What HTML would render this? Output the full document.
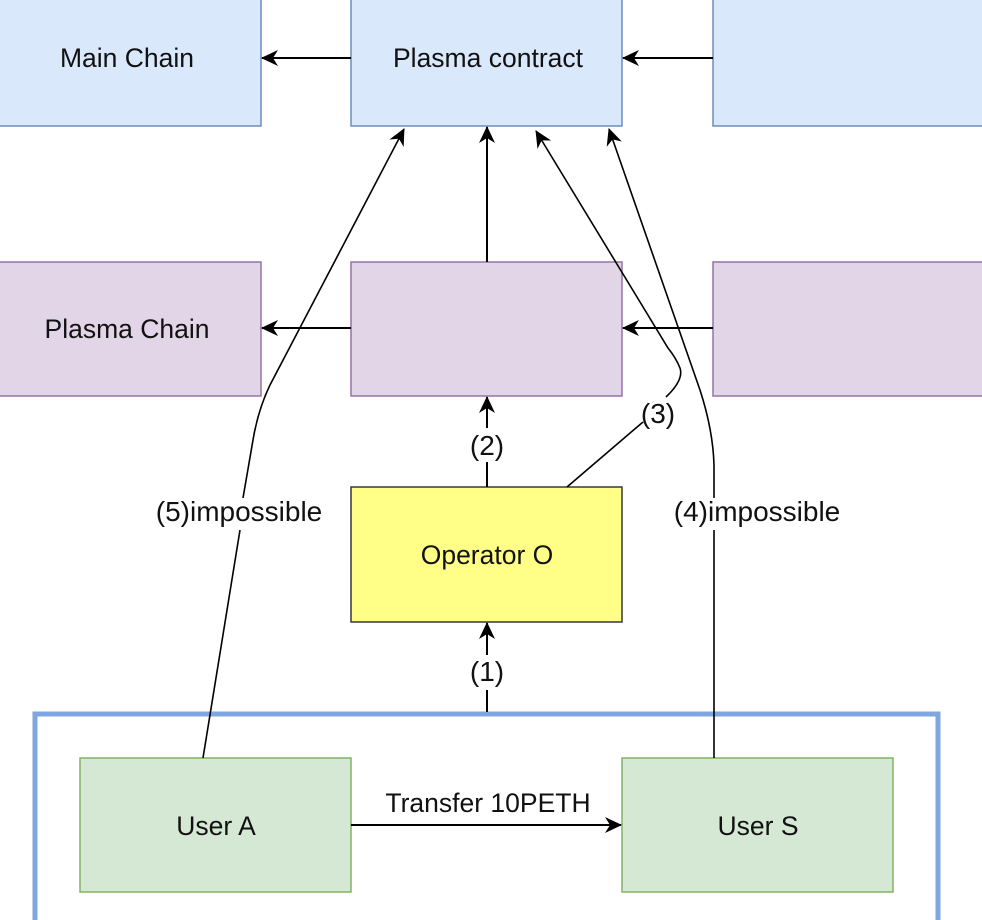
<!DOCTYPE html>
<html><head><meta charset="utf-8"><style>
html,body{margin:0;padding:0;background:#fff;width:982px;height:920px;overflow:hidden}
text{font-family:"Liberation Sans",Helvetica,Arial,sans-serif;font-size:26.5px;fill:#111}
text.l{font-size:28px}
</style></head><body>
<svg width="982" height="920" viewBox="0 0 982 920" xmlns="http://www.w3.org/2000/svg">
<defs>
<marker id="b" markerWidth="18" markerHeight="18" refX="16" refY="9" orient="auto" markerUnits="userSpaceOnUse" viewBox="0 0 18 18">
<path d="M0,1 L17,9 L0,17 L5,9 Z" fill="#000"/></marker>
</defs>
<rect x="-2" y="-2" width="263" height="128" fill="#dae8fc" stroke="#6c8ebf" stroke-width="1.5"/>
<rect x="351" y="-2" width="271" height="128" fill="#dae8fc" stroke="#6c8ebf" stroke-width="1.5"/>
<rect x="713" y="-2" width="271" height="128" fill="#dae8fc" stroke="#6c8ebf" stroke-width="1.5"/>
<text x="127" y="67" text-anchor="middle">Main Chain</text>
<text x="488" y="67" text-anchor="middle">Plasma contract</text>
<rect x="-2" y="262" width="263" height="134" fill="#e1d5e7" stroke="#9673a6" stroke-width="1.5"/>
<rect x="351" y="262" width="271" height="134" fill="#e1d5e7" stroke="#9673a6" stroke-width="1.5"/>
<rect x="713" y="262" width="271" height="134" fill="#e1d5e7" stroke="#9673a6" stroke-width="1.5"/>
<text x="127" y="338" text-anchor="middle">Plasma Chain</text>
<rect x="351" y="487" width="271" height="135" fill="#ffff88" stroke="#36393d" stroke-width="1.5"/>
<text x="487" y="564" text-anchor="middle">Operator O</text>
<rect x="35" y="714" width="903" height="220" fill="none" stroke="#7ea6e0" stroke-width="5"/>
<rect x="80" y="758" width="271" height="134" fill="#d5e8d4" stroke="#82b366" stroke-width="1.5"/>
<rect x="622" y="758" width="271" height="134" fill="#d5e8d4" stroke="#82b366" stroke-width="1.5"/>
<text x="216" y="835" text-anchor="middle">User A</text>
<text x="758" y="835" text-anchor="middle">User S</text>
<g fill="none" stroke="#000" stroke-width="2">
<line x1="351" y1="58" x2="262" y2="58" marker-end="url(#b)"/>
<line x1="713" y1="58" x2="623" y2="58" marker-end="url(#b)"/>
<line x1="351" y1="328" x2="262" y2="328" marker-end="url(#b)"/>
<line x1="713" y1="328" x2="623" y2="328" marker-end="url(#b)"/>
<line x1="487" y1="262" x2="487" y2="127" marker-end="url(#b)"/>
<line x1="487" y1="487" x2="487" y2="462"/>
<line x1="487" y1="428" x2="487" y2="397" marker-end="url(#b)"/>
<line x1="487" y1="712" x2="487" y2="690"/>
<line x1="487" y1="655" x2="487" y2="623" marker-end="url(#b)"/>
<line x1="351" y1="825" x2="621" y2="825" marker-end="url(#b)"/>
</g>
<g fill="none" stroke="#000" stroke-width="1.6">
<path d="M203 758 L240 530"/>
<path d="M243 498 L253 440 Q258 410 270 385 L404 129" marker-end="url(#b)"/>
<path d="M567 487 L643 422"/>
<path d="M666 397 Q684 380 680 368 Q676 358 668 348 L536 131" marker-end="url(#b)"/>
<path d="M714 758 L714 530"/>
<path d="M714 498 L714 465 Q713 430 700 390 L609 129" marker-end="url(#b)"/>
</g>
<text class="l" x="487" y="455" text-anchor="middle">(2)</text>
<text class="l" x="487" y="681" text-anchor="middle">(1)</text>
<text class="l" x="658" y="423" text-anchor="middle">(3)</text>
<text class="l" x="239" y="521" text-anchor="middle">(5)impossible</text>
<text class="l" x="757" y="521" text-anchor="middle">(4)impossible</text>
<text x="488" y="812" text-anchor="middle">Transfer 10PETH</text>
</svg>
</body></html>
